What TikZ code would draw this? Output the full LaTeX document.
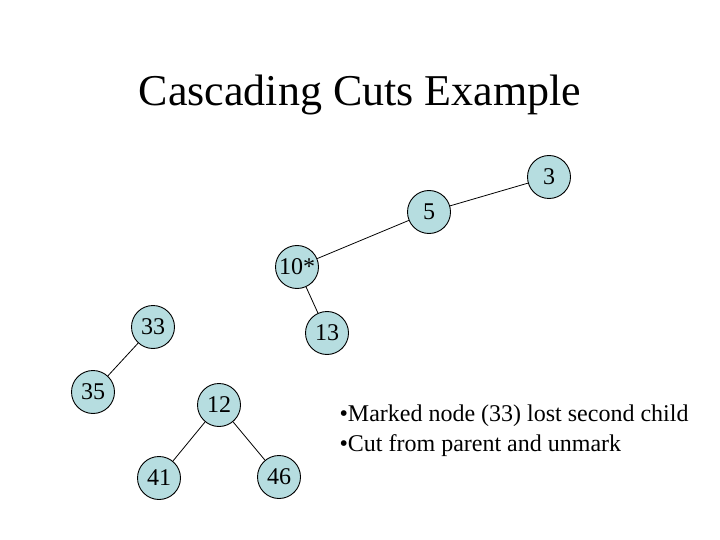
\documentclass[tikz,border=0pt]{standalone}
\usepackage{fontspec}
\setmainfont{Liberation Serif}
\definecolor{nodefill}{RGB}{182,221,224}
\begin{document}
\begin{tikzpicture}[x=1pt, y=-1pt,
    heapnode/.style={circle, draw, line width=0.9pt, fill=nodefill, minimum size=43pt, inner sep=0pt, font=\fontsize{24}{27}\selectfont},
    treeedge/.style={line width=0.8pt}]
      \useasboundingbox (0,0) rectangle (720,540);

      \node[font=\fontsize{44}{50}\selectfont] (title) at (360,95) {Cascading Cuts Example};

      \node[heapnode] (n3) at (549,177) {3};
      \node[heapnode] (n5) at (429,212) {5};
      \node[heapnode] (n10) at (297,267) {10*};
      \node[heapnode] (n13) at (327,333) {13};
      \node[heapnode] (n33) at (153,327) {33};
      \node[heapnode] (n35) at (93,392) {35};
      \node[heapnode] (n12) at (219,405) {12};
      \node[heapnode] (n41) at (159,478) {41};
      \node[heapnode] (n46) at (279,477) {46};

      \draw[treeedge] (n3) -- (n5);
      \draw[treeedge] (n5) -- (n10);
      \draw[treeedge] (n10) -- (n13);
      \draw[treeedge] (n33) -- (n35);
      \draw[treeedge] (n12) -- (n41);
      \draw[treeedge] (n12) -- (n46);

      \node[anchor=west, align=left, font=\fontsize{24}{30}\selectfont] (notes) at (336,431)
            {\textbullet Marked node (33) lost second child\\
             \textbullet Cut from parent and unmark};

\end{tikzpicture}
\end{document}
